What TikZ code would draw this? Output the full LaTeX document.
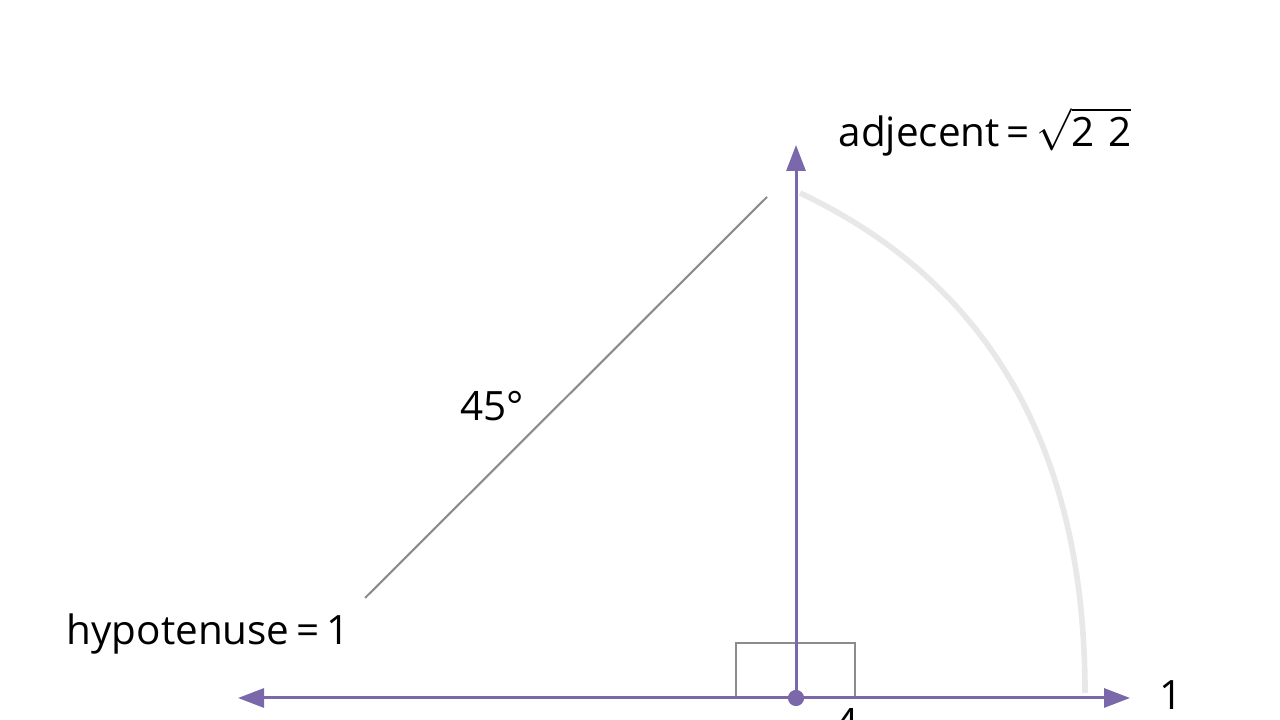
\documentclass[tikz,border=0pt]{standalone}
\usepackage{amsmath}
\usepackage{fontspec}
\setmainfont{Open Sans}
\usepackage{xcolor}
\usepackage{tikz}
\usetikzlibrary{positioning,arrows.meta}
\definecolor{axispurple}{HTML}{7A68AA}
\definecolor{linegray}{HTML}{8C8C8C}
\definecolor{arcgray}{HTML}{E8E8E8}
\tikzset{
  axisline/.style={axispurple, line width=0.85pt, -{Triangle[length=0.26cm,width=0.19cm]}},
  thinline/.style={linegray, line width=0.6pt},
  lbl/.style={inner sep=0pt, font=\fontsize{11.5}{14}\selectfont}
}

\begin{document}
\begin{tikzpicture}
\useasboundingbox (0,0) rectangle (12.8,7.2);
\coordinate (O) at (7.96,0.22);
\coordinate (L) at (2.38,0.22);
\coordinate (R) at (11.30,0.22);
\coordinate (T) at (7.96,5.75);
\coordinate (d1) at (3.65,1.22);
\coordinate (d2) at (7.67,5.23);
% quarter arc
\draw[arcgray, line width=1.6pt] (8.00,5.27) .. controls (10.05,4.30) and (10.85,2.50) .. (10.85,0.27);
% right angle box
\draw[thinline] (7.36,0.22) -- (7.36,0.77) -- (8.55,0.77) -- (8.55,0.22);
% hypotenuse
\draw[thinline] (d1) -- (d2);
% axes
\draw[axisline] (O) -- (L);
\draw[axisline] (O) -- (R);
\draw[axisline] (O) -- (T);
\filldraw[axispurple] (O) circle (2.1pt);
\node[lbl] (hyp) at (2.08,0.86) {hypotenuse\,=\,1};
\node[lbl] (ang) at (4.92,3.14) {45°};
\node[lbl, anchor=west] (adj) at (8.38,5.88) {adjecent\,=\,$\sqrt{\mbox{2\,\,2}}$};
\node[lbl] (one) at (11.71,0.25) {1};
\node[lbl, anchor=north] (four) at (8.47,0.12) {4};
\end{tikzpicture}
\end{document}
